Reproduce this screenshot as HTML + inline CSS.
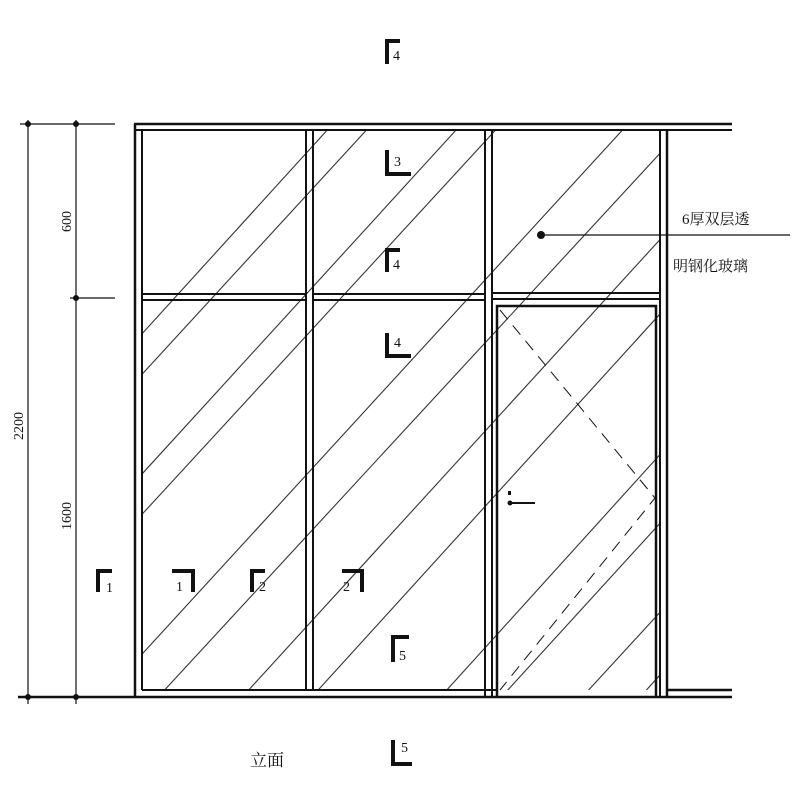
<!DOCTYPE html>
<html><head><meta charset="utf-8"><style>html,body{margin:0;padding:0;background:#fff;width:794px;height:785px;overflow:hidden;position:relative}svg{display:block;position:absolute;left:0;top:0}</style></head><body>
<svg width="794" height="785" viewBox="0 0 794 785" xmlns="http://www.w3.org/2000/svg">
<defs>
<clipPath id="g"><rect x="142" y="130" width="518" height="560"/></clipPath>
</defs>
<g clip-path="url(#g)" stroke="#333" stroke-width="1.1">
<line x1="100" y1="380" x2="400" y2="50"/>
<line x1="100" y1="420" x2="440" y2="50"/>
<line x1="100" y1="520" x2="520" y2="60"/>
<line x1="100" y1="560" x2="560" y2="60"/>
<line x1="100" y1="700" x2="650" y2="100"/>
<line x1="100" y1="760" x2="700" y2="110"/>
<line x1="130" y1="820" x2="760" y2="130"/>
<line x1="200" y1="820" x2="800" y2="160"/>
<line x1="320" y1="830" x2="800" y2="300"/>
<line x1="380" y1="830" x2="800" y2="370"/>
<line x1="460" y1="830" x2="800" y2="460"/>
<line x1="520" y1="830" x2="800" y2="520"/>
<line x1="600" y1="830" x2="800" y2="610"/>
</g>
<g stroke="#111" fill="none">
<line x1="134" y1="124" x2="732" y2="124" stroke-width="2.5"/>
<line x1="134" y1="130" x2="732" y2="130" stroke-width="2"/>
<line x1="20" y1="124" x2="115" y2="124" stroke-width="1.2"/>
<line x1="70" y1="298" x2="115" y2="298" stroke-width="1.2"/>
<line x1="18" y1="697" x2="732" y2="697" stroke-width="2.5"/>
<line x1="142" y1="690" x2="497" y2="690" stroke-width="2"/>
<line x1="667" y1="690" x2="732" y2="690" stroke-width="2.5"/>
<line x1="135" y1="124" x2="135" y2="697" stroke-width="2.5"/>
<line x1="142" y1="130" x2="142" y2="690" stroke-width="2"/>
<line x1="306" y1="130" x2="306" y2="690" stroke-width="2"/>
<line x1="313" y1="130" x2="313" y2="690" stroke-width="2"/>
<line x1="485" y1="130" x2="485" y2="697" stroke-width="2"/>
<line x1="492" y1="130" x2="492" y2="697" stroke-width="2"/>
<line x1="660" y1="130" x2="660" y2="697" stroke-width="2"/>
<line x1="667" y1="130" x2="667" y2="697" stroke-width="2.5"/>
<line x1="142" y1="294" x2="306" y2="294" stroke-width="2"/>
<line x1="142" y1="300" x2="306" y2="300" stroke-width="2"/>
<line x1="313" y1="294" x2="485" y2="294" stroke-width="2"/>
<line x1="313" y1="300" x2="485" y2="300" stroke-width="2"/>
<line x1="492" y1="293" x2="660" y2="293" stroke-width="2"/>
<line x1="492" y1="299" x2="660" y2="299" stroke-width="2"/>
<path d="M497 697 V306 H656 V697" stroke-width="2.5"/>
<path d="M500 310 L655 498 L500 690" stroke-width="1" stroke-dasharray="12 8"/>
<line x1="510" y1="503" x2="535" y2="503" stroke-width="2"/>
<line x1="28" y1="120" x2="28" y2="704" stroke-width="1.2"/>
<line x1="76" y1="120" x2="76" y2="704" stroke-width="1.2"/>
<line x1="541" y1="235" x2="790" y2="235" stroke-width="1.3"/>
</g>
<g fill="#111">
<circle cx="28" cy="124" r="3"/><circle cx="76" cy="124" r="3"/><circle cx="76" cy="298" r="3"/><circle cx="28" cy="697" r="3"/><circle cx="76" cy="697" r="3"/>
<circle cx="541" cy="235" r="4"/><circle cx="510" cy="503" r="2.5"/><rect x="508" y="491" width="3" height="4"/>
</g>
<g fill="none" stroke="#111" stroke-width="4">
<path d="M387 64 V41 H400"/>
<path d="M387 150 V174 H411"/>
<path d="M387 272 V250 H400"/>
<path d="M387 333 V356 H411"/>
<path d="M98 592 V571 H112"/>
<path d="M172 571 H193 V592"/>
<path d="M252 592 V571 H265"/>
<path d="M342 571 H362 V592"/>
<path d="M393 662 V637 H409"/>
<path d="M393 740 V764 H412"/>
</g>
<g font-family="Liberation Serif, 'Noto Serif CJK SC', serif" font-size="14" fill="#111">
<text x="393" y="60">4</text><text x="394" y="166">3</text><text x="393" y="269">4</text><text x="394" y="347">4</text>
<text x="106" y="592">1</text><text x="176" y="591">1</text><text x="259" y="591">2</text><text x="343" y="591">2</text>
<text x="399" y="660">5</text><text x="401" y="752">5</text>
<text x="682" y="224" font-size="15">6厚双层透</text>
<text x="673" y="271" font-size="15">明钢化玻璃</text>
<text x="250" y="766" font-size="17">立面</text>
<text transform="translate(71 232) rotate(-90)" font-size="14">600</text>
<text transform="translate(71 530) rotate(-90)" font-size="14">1600</text>
<text transform="translate(23 440) rotate(-90)" font-size="14">2200</text>
</g>
</svg>
</body></html>
